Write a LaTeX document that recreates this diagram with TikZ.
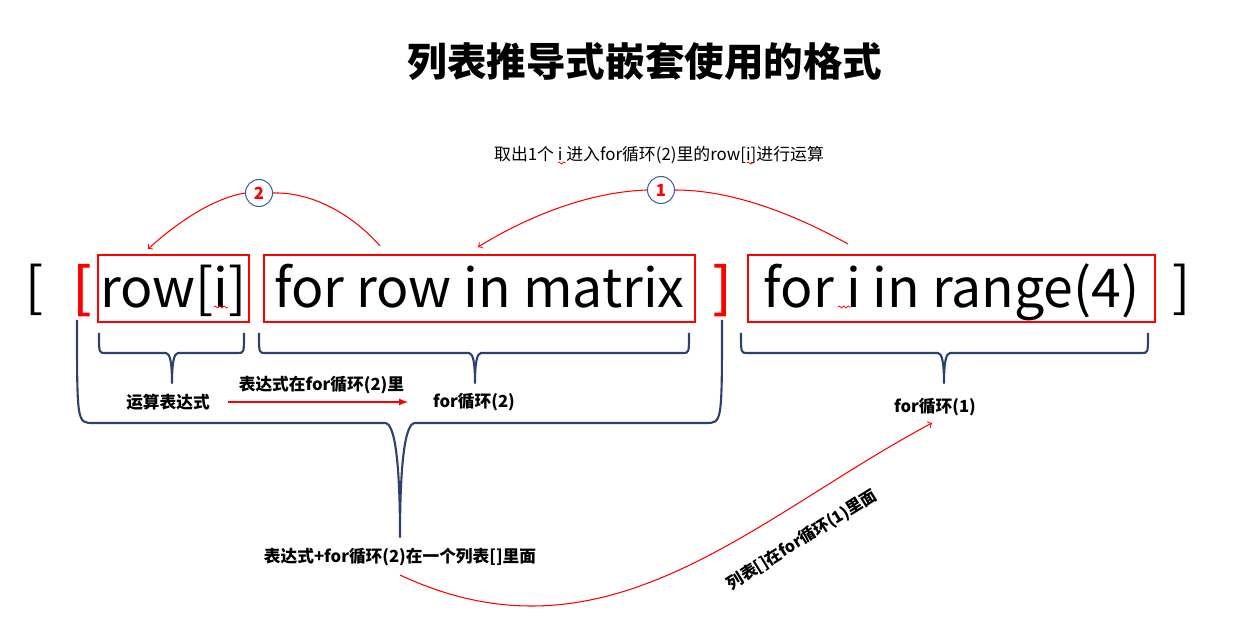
\documentclass[tikz,border=0pt]{standalone}
\usepackage{fontspec}
\setmainfont{Noto Sans CJK SC}
\newfontfamily\heavybr{Noto Sans CJK SC}[FakeBold=1.6]
\usetikzlibrary{arrows,positioning,decorations.pathmorphing}
\definecolor{bracecol}{RGB}{44,66,110}
\definecolor{circcol}{RGB}{64,96,160}

\begin{document}
\begin{tikzpicture}[x=0.02cm,y=-0.02cm,
        code/.style={font=\fontsize{30.5}{36}\selectfont,inner sep=0pt,text height=24.4pt,text depth=3pt},
        codebox/.style={code,draw=red,line width=1.1pt,minimum height=1.33cm},
        redbr/.style={code,text=red,font=\fontsize{30.5}{36}\heavybr},
        lbl/.style={font=\fontsize{9.5}{11}\selectfont\bfseries,text=black,inner sep=1pt},
        step_circ/.style={circle,draw=circcol,line width=0.6pt,minimum size=0.54cm,inner sep=0pt,text=red,font=\fontsize{9.5}{11}\selectfont\bfseries},
        redline/.style={red,line width=0.6pt},
        brace/.style={bracecol,line width=1.2pt,line join=round},
        squiggle/.style={red,line width=0.4pt,decorate,decoration={snake,amplitude=0.6pt,segment length=2.5pt}}]

    \useasboundingbox (0,0) rectangle (1242,644);

    % title and note
    \node[font=\fontsize{22.5}{27}\selectfont\bfseries] (title) at (645,62) {列表推导式嵌套使用的格式};
    \node[font=\fontsize{9.6}{11}\selectfont] (note) at (659,155) {取出1个 i 进入for循环(2)里的row[i]进行运算};

    % the comprehension
    \node[code] (outer_l) at (35,288) {[};
    \node[redbr] (inner_l) at (82,288) {[};
    \node[codebox,minimum width=3.02cm] (rowi) at (173.5,288.5) {row[i]};
    \node[codebox,minimum width=8.62cm,right=0.26cm of rowi] (forrow) {for row in matrix};
    \node[redbr] (inner_r) at (722,288) {]};
    \node[codebox,minimum width=8.14cm,right=1.03cm of forrow] (forrange) {for i in range(4)};
    \node[code] (outer_r) at (1182,288) {]};

    \draw[squiggle] (214,307) -- (228,307);
    \draw[squiggle] (838,307) -- (851,307);
    \draw[squiggle] (558,163) -- (566,163);
    \draw[squiggle] (747,163) -- (754,163);

    % braces
    \foreach \xa/\xb/\xm/\ya/\yb/\yc/\c/\w/\s in {99/244/172/333/353/383/6/6/10,
            259/689/475/333/353/383/6/6/10, 741/1148/944/333/353/383/6/6/10,
            77/722/400/320/423/537/16/15/40}
        \draw[brace] (\xa,\ya) .. controls (\xa,\yb) .. (\xa+\c,\yb) -- (\xm-\w,\yb)
            .. controls (\xm-\w/3,\yb) and (\xm,\yb+\s) .. (\xm,\yc)
            .. controls (\xm,\yb+\s) and (\xm+\w/3,\yb) .. (\xm+\w,\yb) -- (\xb-\c,\yb)
            .. controls (\xb,\yb) .. (\xb,\ya);

    % labels
    \node[lbl] (lbl_expr) at (168,402) {运算表达式};
    \node[lbl] (lbl_for2) at (474,402) {for循环(2)};
    \node[lbl] (lbl_for1) at (935,407) {for循环(1)};
    \node[lbl] (lbl_all) at (400,557) {表达式+for循环(2)在一个列表[]里面};
    \node[lbl,rotate=32,font=\fontsize{9.2}{11}\selectfont\bfseries] (lbl_list) at (802,540) {列表[]在for循环(1)里面};

    \draw[red,line width=0.8pt,-latex,shorten <=9pt,shorten >=13pt] (lbl_expr.east)
        -- node[lbl,above=3pt] (lbl_in2) {表达式在for循环(2)里} (lbl_for2.west);

    % steps 1 and 2
    \node[step_circ] (c2) at (259,193) {2};
    \node[step_circ] (c1) at (661,190) {1};

    \coordinate (arc2_from) at (380,246);
    \coordinate (arc2_to) at (148,249);
    \coordinate (arc1_from) at (848,244);
    \coordinate (arc1_to) at (478,247);
    \coordinate (low_from) at (400,575);
    \coordinate (low_to) at (932,423);

    \draw[redline] (arc2_from) .. controls (350,212) and (310,192) .. (c2.east);
    \draw[redline,->] (c2.west) .. controls (215,198) and (180,220) .. (arc2_to);
    \draw[redline] (arc1_from) .. controls (790,212) and (730,190) .. (c1.east);
    \draw[redline,->] (c1.west) .. controls (590,192) and (530,215) .. (arc1_to);
    \draw[redline,->] (low_from) .. controls (607,672) and (752,519) .. (low_to);

\end{tikzpicture}
\end{document}
